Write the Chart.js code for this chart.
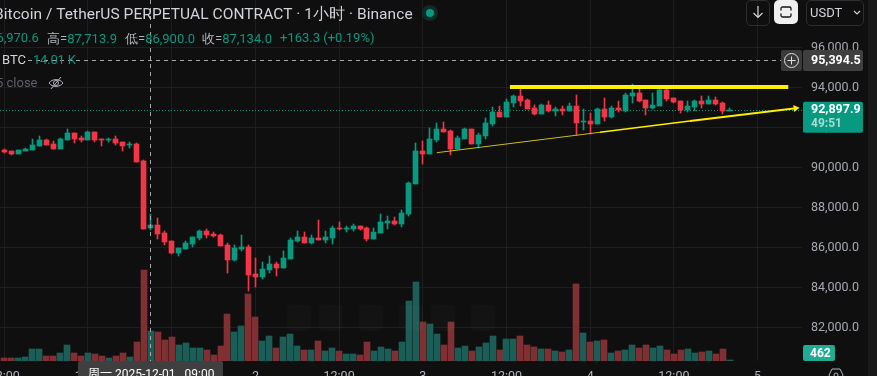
<!DOCTYPE html>
<html>
<head>
<meta charset="utf-8">
<title>BTCUSDT</title>
<script src="https://cdn.jsdelivr.net/npm/chart.js@4"></script>
<style>
    html, body { margin: 0; padding: 0; background: #0f0f0f; overflow: hidden; }
    #wrap { position: relative; width: 877px; height: 376px; overflow: hidden; font-family: Roboto, sans-serif; }
    #priceChart { position: absolute; left: 0; top: 0; }
    .txt { position: absolute; white-space: nowrap; }
    .title { left: -6px; top: 4px; font-size: 15.5px; color: #d1d4dc; letter-spacing: 0.06px; }
    .ohlc { top: 30px; font-size: 13px; color: #089981; }
    .ohlc b { font-weight: 400; color: #b2b5be; }
    .dot { position: absolute; left: 426px; top: 9px; width: 8px; height: 8px; border-radius: 50%; background: #089981; box-shadow: 0 0 0 4px #0f2a27; }
    .faint { position: absolute; top: 305px; width: 24px; height: 26px; border-radius: 4px; background: rgba(255,255,255,0.018); }
    .btn { position: absolute; top: 0; height: 24px; border: 1px solid #2e2e2e; border-radius: 5px; box-sizing: content-box; }
    .strip { position: absolute; left: 868px; top: 0; width: 9px; height: 376px; background: #191919; }
</style>
</head>
<body>
<div id="wrap">
    <canvas id="priceChart" width="877" height="376"></canvas>
    <div class="strip"></div>
    <div class="faint" style="left:287px"></div>
    <div class="faint" style="left:319px"></div>
    <div class="faint" style="left:359px"></div>
    <div class="faint" style="left:399px"></div>
    <div class="faint" style="left:431px"></div>
    <div class="faint" style="left:471px"></div>
    <div class="txt title">Bitcoin / TetherUS PERPETUAL CONTRACT · 1小时 · Binance</div>
    <div class="dot"></div>
    <div class="txt ohlc" style="left:-27px">O=86,970.6</div>
    <div class="txt ohlc" style="left:47px"><b>高=</b>87,713.9</div>
    <div class="txt ohlc" style="left:125px"><b>低=</b>86,900.0</div>
    <div class="txt ohlc" style="left:202px"><b>收=</b>87,134.0</div>
    <div class="txt ohlc" style="left:280px">+163.3 (+0.19%)</div>
    <div class="txt" style="left:2px;top:52px;font-size:13px;color:#d1d4dc">BTC</div>
    <div class="txt" style="left:33px;top:52px;font-size:13px;color:#089981;letter-spacing:-0.2px">14.01 K</div>
    <div class="txt" style="left:-4px;top:75px;font-size:13px;color:#5d606b">5 close</div>
    <svg class="txt" style="left:48px;top:76px" width="16" height="14" viewBox="0 0 16 14" fill="none" stroke="#b2b5be" stroke-width="1">
        <path d="M1 7 C4 2.5 12 2.5 15 7 C12 11.5 4 11.5 1 7 Z"/><circle cx="8" cy="7" r="2.5"/><path d="M3 13 L13 1"/>
    </svg>
    <div class="btn" style="left:746px;width:22px;"></div>
    <svg class="txt" style="left:751px;top:5px" width="14" height="14" viewBox="0 0 14 14" fill="none" stroke="#d1d4dc" stroke-width="1.2">
        <path d="M7 1 V12 M2.5 8 L7 12.5 L11.5 8"/>
    </svg>
    <div style="position:absolute;left:774px;top:0;width:24px;height:24px;border-radius:5px;background:#f0f0f0"></div>
    <svg class="txt" style="left:780px;top:6px" width="12" height="12" viewBox="0 0 12 12" fill="none" stroke="#131313" stroke-width="1.3">
        <path d="M1 4.5 V2.5 Q1 1 2.5 1 H9.5 Q11 1 11 2.5 V4.5 M1 7.5 V9.5 Q1 11 2.5 11 H9.5 Q11 11 11 9.5 V7.5"/>
    </svg>
    <div class="btn" style="left:806px;width:56px;"></div>
    <div class="txt" style="left:810px;top:5px;font-size:13px;color:#d1d4dc">USDT</div>
    <svg class="txt" style="left:853px;top:10px" width="8" height="6" viewBox="0 0 8 6" fill="none" stroke="#d1d4dc" stroke-width="1.1">
        <path d="M1 1 L4 4 L7 1"/>
    </svg>
    <svg class="txt" style="left:828px;top:368px" width="16" height="14" viewBox="0 0 16 14" fill="none" stroke="#b2b5be" stroke-width="1">
        <path d="M4 1 H12 L15 7 L12 13 H4 L1 7 Z"/><circle cx="8" cy="7" r="2"/>
    </svg>
</div>
<script>
    // hourly candles
    const open = [90890,90840,90690,90840,90890,91090,91390,91190,90940,91390,91725,91490,91390,91790,91440,91375,91440,91290,91140,91190,90340,86970.6,87140,86740,86340,85740,85940,86190,86490,86840,86690,86640,86140,85390,85940,86040,84690,84540,84890,85190,84990,85440,86340,86540,86240,86490,86390,86490,86990,86940,86940,87090,86990,86440,86740,87240,87340,87190,87690,89190,90840,90690,91390,91940,91840,90940,91440,91940,91190,91590,92190,92790,92540,93240,93590,93390,92990,92690,93140,92840,92940,92840,93090,92290,92340,92190,92940,92540,92990,92840,93590,93740,93390,92990,93090,93890,93490,93340,92890,93040,93340,93190,93390,93240,92840];
    const high = [90955,90840,90890,90990,91440,91590,91440,91325,91490,91940,91725,91590,91840,91790,91440,91490,91590,91290,91290,91240,90390,87713.9,87490,86840,86340,85990,86340,86540,86890,86940,86790,86690,86240,86140,86640,86140,85490,85290,85590,85290,85840,86490,86840,86790,86640,87390,86840,87090,87290,87090,87190,87090,87040,86990,87690,87590,87540,87890,89290,91240,91340,91990,92240,92290,91890,91590,91990,91940,91740,92490,93040,93090,93440,93640,93940,93440,93140,93190,93340,93040,93090,93240,93640,92940,92740,92990,93490,93090,93340,93740,94190,93940,93390,93740,93940,93940,93490,93340,93340,93390,93590,93590,93540,93290,92990];
    const low = [90740,90640,90690,90840,90890,91090,91140,90940,90940,91390,91240,91290,91390,91290,91090,91290,91140,90840,90990,90290,86940,86900,86440,86140,85690,85590,85940,86040,86390,86490,86540,86090,84740,85340,85840,83840,84040,84440,84740,84590,84990,85440,86290,86240,86190,86390,86240,86190,86890,86790,86840,86890,86340,86440,86740,86940,87140,87040,87590,89190,90190,90690,91290,91790,90640,90940,91440,91190,90990,91440,92090,92540,92540,93040,93090,92940,92640,92690,92790,92590,92640,92840,91640,91890,91690,92190,92340,92490,92790,92790,93240,93290,92640,92940,93090,93340,93240,92740,92790,92840,92990,93190,93140,92690,92840];
    const close = [90790,90705,90890,90940,91140,91390,91140,90940,91440,91740,91440,91390,91790,91390,91390,91425,91240,91090,91190,90290,86940,87134,86690,86290,85740,85990,86240,86540,86840,86640,86590,86090,85390,85990,86040,84640,84540,84940,85190,84990,85490,86390,86540,86240,86490,86390,86540,86990,86940,86990,87090,86940,86440,86790,87290,87340,87190,87740,89240,90840,90690,91440,91940,91790,90940,91490,91940,91190,91640,92240,92790,92540,93290,93590,93340,92940,92690,93140,92840,92940,92840,93090,92240,92340,92190,92940,92540,92990,92890,93640,93740,93340,92990,93140,93890,93440,93290,92890,93090,93340,93190,93390,93190,92840,92897.9];
    const volume = [1400,1400,1400,1870,5600,5600,2340,2340,3740,7470,3740,2340,3740,3270,2340,1400,2340,3740,1870,8870,42500,14010,13540,9810,11210,7470,8410,6070,6070,5140,2800,7000,21950,13540,16350,31290,20550,9340,11680,6070,11210,12610,7000,5140,5140,9340,4670,6070,4670,3270,3270,2800,8870,4670,6540,5600,4670,8870,28020,36890,18210,17280,12610,7470,18210,6070,7000,4670,6540,8410,11680,5140,10270,10270,11680,7470,6540,5600,5600,4670,4200,5140,35960,13080,8870,9340,9810,3740,4670,5140,7470,6070,7470,6070,7000,5140,3270,5140,5600,3740,4200,4670,3270,5600,462];
    const hours = open.map((v, i) => i);

    const priceTicks = [82000,84000,86000,88000,90000,92000,94000,96000];
    const timeTicks = [0,12,24,36,48,60,72,84,96,108];
    const timeLabels = ["12:00","12月","12:00","2","12:00","3","12:00","4","12:00","5"];

    // hand drawn yellow lines
    const levelX = [72.5, 112.4];
    const levelY = [94040, 94040];
    const trendX = [62, 85.4, 98.3, 113.46];
    const trendY = [90755, 91775, 92340, 92975];

    const lastPrice = 92897.9;
    const lastVolume = 462;
    const crossPrice = 95394.5;
    const crossHour = 21;

    const UP = "#089981";
    const DOWN = "#f23645";
    const isUp = i => close[i] >= open[i];
    const candleColor = hours.map(i => isUp(i) ? UP : DOWN);
    const volumeColor = hours.map(i => isUp(i) ? "#1b5e57" : "#803032");

    // line datasets push the chart area in by their point size, we want it flush with the canvas
    Chart.registry.getController("line").prototype.getMaxOverflow = () => 0;

    // tradingview draws on whole pixels, so move the bars there too
    const snapBars = {
        id: "snapBars",
        afterDatasetsUpdate(chart) {
            chart.data.datasets.forEach((ds, d) => {
                if (ds.type === "line") return;
                chart.getDatasetMeta(d).data.forEach(bar => {
                    bar.x = ds.snapEven ? Math.round(bar.x) : Math.floor(bar.x) + 0.5;
                    let top = Math.round(bar.y);
                    let bottom = Math.round(bar.base);
                    if (top === bottom) top = bottom - 1;
                    bar.y = top;
                    bar.base = bottom;
                    bar.height = bottom - top;
                });
            });
        }
    };

    const lastLine = {
        id: "lastLine",
        beforeDatasetsDraw(chart) {
            const ctx = chart.ctx;
            const y = Math.round(chart.scales.y.getPixelForValue(lastPrice)) + 0.5;
            ctx.save();
            ctx.strokeStyle = UP;
            ctx.setLineDash([1, 2]);
            ctx.beginPath();
            ctx.moveTo(0, y);
            ctx.lineTo(chart.chartArea.right, y);
            ctx.stroke();
            ctx.restore();
        }
    };

    function tag(ctx, x, y, w, h, bg) {
        ctx.fillStyle = bg;
        ctx.beginPath();
        ctx.roundRect(x, y, w, h, 2);
        ctx.fill();
    }

    const overlays = {
        id: "overlays",
        afterDraw(chart) {
            const ctx = chart.ctx;
            const area = chart.chartArea;
            const yp = Math.round(chart.scales.y.getPixelForValue(crossPrice)) + 0.5;
            const xp = Math.floor(chart.scales.x.getPixelForValue(crossHour)) + 0.5;
            const yl = chart.scales.y.getPixelForValue(lastPrice);
            const yv = chart.scales.yVol.getPixelForValue(lastVolume);

            ctx.save();
            // crosshair
            ctx.strokeStyle = "#a8a8a8";
            ctx.setLineDash([4, 4]);
            ctx.beginPath();
            ctx.moveTo(xp, 0);
            ctx.lineTo(xp, area.bottom);
            ctx.moveTo(28, yp);
            ctx.lineTo(781, yp);
            ctx.stroke();
            ctx.setLineDash([]);

            ctx.textBaseline = "middle";

            // plus button and crosshair price
            tag(ctx, 781, yp - 10.5, 21, 21, "#3a3a3a");
            ctx.strokeStyle = "#e0e0e0";
            ctx.beginPath();
            ctx.arc(791.5, yp, 7, 0, Math.PI * 2);
            ctx.moveTo(787.5, yp);
            ctx.lineTo(795.5, yp);
            ctx.moveTo(791.5, yp - 4);
            ctx.lineTo(791.5, yp + 4);
            ctx.stroke();
            tag(ctx, 803, yp - 10.5, 60, 21, "#3f3f3f");
            ctx.fillStyle = "#ffffff";
            ctx.font = "bold 12.5px Roboto";
            ctx.fillText(crossPrice.toLocaleString("en-US", { minimumFractionDigits: 1 }), 811, yp + 0.5);

            // last price with the countdown
            tag(ctx, 803, yl - 8, 60, 31, UP);
            ctx.fillStyle = "#ffffff";
            ctx.fillText(lastPrice.toLocaleString("en-US", { minimumFractionDigits: 1 }), 811, yl);
            ctx.fillStyle = "#a6dcd3";
            ctx.font = "bold 12px Roboto";
            ctx.fillText("49:51", 811, yl + 14);

            // last volume
            tag(ctx, 803, yv - 15, 32, 16, "#22ab94");
            ctx.fillStyle = "#ffffff";
            ctx.font = "bold 12px Roboto";
            ctx.fillText(String(lastVolume), 810, yv - 6.5);

            // crosshair time
            tag(ctx, 78, 361, 145, 18, "#3f3f3f");
            ctx.fillStyle = "#ffffff";
            ctx.font = "12px Roboto, 'Noto Sans CJK SC'";
            ctx.fillText("周一 2025-12-01   09:00", 88, 375);
            ctx.restore();
        }
    };

    const trendWidths = [1, 1.6, 2];

    new Chart(document.getElementById("priceChart").getContext("2d"), {
        type: "bar",
        plugins: [snapBars, lastLine, overlays],
        data: {
            labels: hours,
            datasets: [
                {
                    type: "line",
                    data: levelX.map((x, i) => ({ x: x, y: levelY[i] })),
                    borderColor: "#ffee00",
                    borderWidth: 4,
                    pointRadius: 0,
                    order: 0
                },
                {
                    type: "line",
                    data: trendX.map((x, i) => ({ x: x, y: trendY[i] })),
                    borderColor: "#ffee00",
                    pointStyle: "triangle",
                    pointRadius: [0, 0, 0, 4],
                    pointBackgroundColor: "#ffee00",
                    pointBorderWidth: 0,
                    pointRotation: 83,
                    segment: {
                        borderWidth: c => trendWidths[c.p0DataIndex],
                        borderColor: c => c.p0DataIndex === 0 ? "#c9bc1e" : "#ffee00"
                    },
                    order: 0
                },
                {
                    label: "body",
                    data: hours.map(i => [open[i], close[i]]),
                    backgroundColor: candleColor,
                    barThickness: 5,
                    order: 1
                },
                {
                    label: "wick",
                    data: hours.map(i => [low[i], high[i]]),
                    backgroundColor: candleColor,
                    barThickness: 1,
                    order: 2
                },
                {
                    label: "volume",
                    data: volume,
                    yAxisID: "yVol",
                    backgroundColor: volumeColor,
                    barThickness: 6,
                    snapEven: true,
                    order: 3
                }
            ]
        },
        options: {
            responsive: false,
            animation: false,
            layout: { padding: 0 },
            datasets: { bar: { grouped: false, borderWidth: 0 } },
            plugins: {
                legend: { display: false },
                title: { display: false },
                tooltip: { enabled: false }
            },
            scales: {
                x: {
                    type: "linear",
                    offset: false,
                    min: -0.6165,
                    max: 114.37,
                    afterBuildTicks: axis => { axis.ticks = timeTicks.map(v => ({ value: v })); },
                    afterFit: axis => {
                        axis.paddingLeft = 0; axis.paddingRight = 0; axis.paddingTop = 0; axis.paddingBottom = 0;
                        axis.height = 15;
                    },
                    grid: { color: "#1e1e1e", offset: false, drawTicks: false },
                    border: { display: false },
                    ticks: {
                        autoSkip: false,
                        maxRotation: 0,
                        padding: 8,
                        color: "#b2b5be",
                        font: { family: "Roboto, 'Noto Sans CJK SC'", size: 12.5 },
                        callback: value => timeLabels[timeTicks.indexOf(value)]
                    }
                },
                y: {
                    position: "right",
                    min: 80340,
                    max: 98390,
                    afterBuildTicks: axis => { axis.ticks = priceTicks.map(v => ({ value: v })); },
                    afterFit: axis => {
                        axis.paddingLeft = 0; axis.paddingRight = 0; axis.paddingTop = 0; axis.paddingBottom = 0;
                        axis.width = 75;
                    },
                    grid: { color: "#1e1e1e", drawTicks: false },
                    border: { display: false },
                    ticks: {
                        padding: 9,
                        color: "#a6a9b2",
                        font: { family: "Roboto", size: 12.5 },
                        callback: value => value.toLocaleString("en-US", { minimumFractionDigits: 1 })
                    }
                },
                yVol: {
                    display: false,
                    min: 0,
                    max: 168600
                }
            }
        }
    });
</script>
</body>
</html>
